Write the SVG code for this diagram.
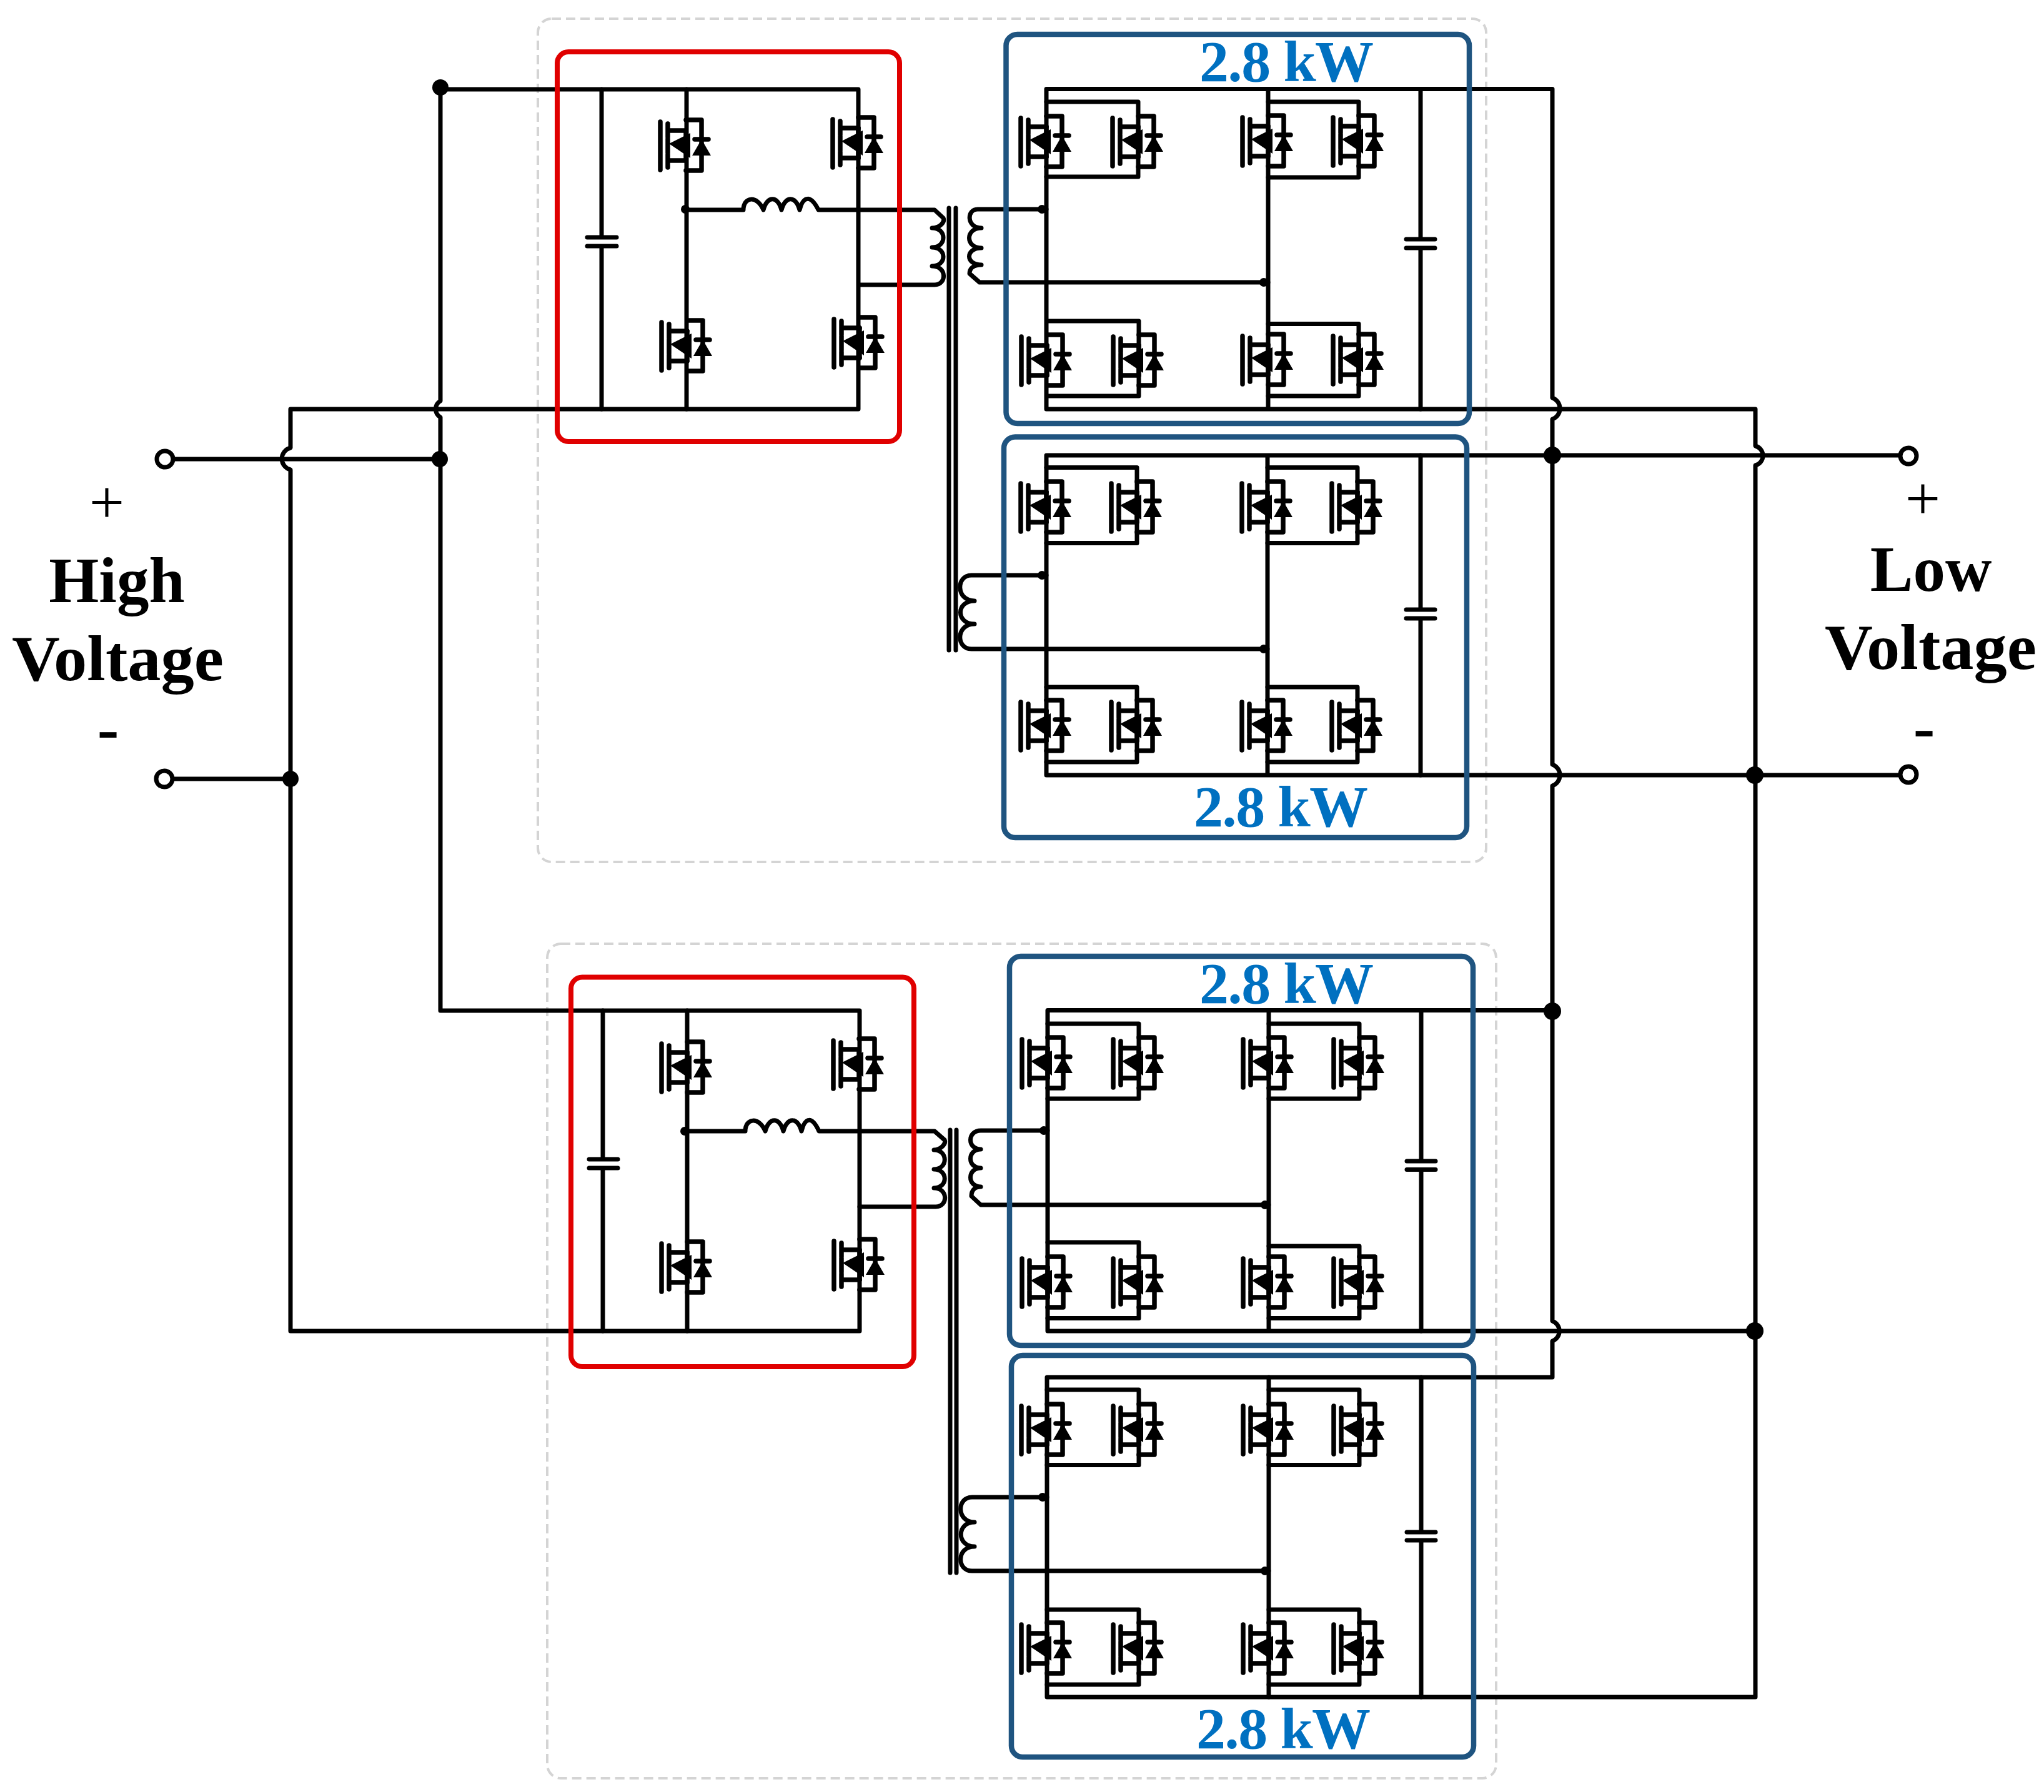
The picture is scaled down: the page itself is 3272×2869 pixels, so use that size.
<svg xmlns="http://www.w3.org/2000/svg" xmlns:xlink="http://www.w3.org/1999/xlink" width="3272" height="2869" viewBox="0 0 3272 2869">
<style>
.w{fill:none;stroke:#000;stroke-width:7;stroke-linejoin:round;stroke-linecap:round}
.s{fill:none;stroke:#000;stroke-width:7.5;stroke-linejoin:round;stroke-linecap:round}
.d{fill:#000}
.t{fill:#fff;stroke:#000;stroke-width:7}
.red{fill:none;stroke:#e00000;stroke-width:8}
.blue{fill:none;stroke:#1f5480;stroke-width:8.5}
.dash{fill:none;stroke:#d4d4d4;stroke-width:4;stroke-dasharray:15 8}
.kw{font-family:"Liberation Serif",serif;font-weight:700;font-size:94px;fill:#0070c0}
.big{font-family:"Liberation Serif",serif;font-weight:700;font-size:103px;fill:#000}
.plus{font-family:"Liberation Serif",serif;font-size:100px;fill:#000}
.minus{font-family:"Liberation Serif",serif;font-weight:700;font-size:104px;fill:#000}
</style>
<defs>
<g id="q">
<path class="s" d="M-41-37V40M-29-34V-12M-29-10V13M-29 15V36M-29-23H0M-29 25H0M0-40H25V41H0M14-9H36"/>
<path class="d" d="M-27-2L7-19V21ZM25-9L40 17H10Z"/>
<path class="s" d="M0-23V-10M0 14V25"/>
</g>
</defs>
<rect width="3272" height="2869" fill="#fff"/>
<g id="frames">
<rect class="dash" x="861" y="30" width="1518" height="1350" rx="22"/>
<rect class="dash" x="876" y="1511" width="1519" height="1336" rx="22"/>
</g>
<g id="connectors">
<path class="w" d="M705 143H1374V655H465V717A18 18 0 0 0 465 752V2131H1376V1618H705V668A15 15 0 0 1 705 642V143"/>
<path class="w" d="M264 735H704M264 1247H465"/>
<path class="w" d="M1099 143V655M1100 1618V2131"/>
<path class="w" d="M963 143V380M963 394V655M965 1618V1856M965 1870V2131M940 380H987M940 394H987M943 1856H989M943 1870H989"/>
<path class="w" d="M1099 336H1190C1190 315 1212 312 1222 336C1228 313 1245 313 1251 336C1257 313 1274 313 1280 336C1286 313 1298 312 1310 336H1496L1510 349C1513 356 1504 365 1492 365C1516 365 1516 396 1492 396C1516 396 1516 426 1492 426C1516 426 1516 456 1496 456H1375"/>
<path class="w" d="M1100 1811H1193C1193 1790 1215 1787 1225 1811C1231 1788 1248 1788 1254 1811C1260 1788 1277 1788 1283 1811C1289 1788 1300 1787 1311 1811H1496L1512 1825C1515 1832 1505 1841 1495 1841C1518 1841 1518 1872 1495 1872C1518 1872 1518 1902 1495 1902C1518 1902 1518 1932 1498 1932H1376"/>
<path class="w" d="M1519 333V1041M1530 333V1041M1521 1809V2518M1531 1809V2518"/>
<path class="w" d="M1675 335H1565C1547 335 1547 365 1571 365C1545 365 1545 397 1571 397C1545 397 1545 424 1571 424C1558 424 1552 430 1552 438L1568 452H2030"/>
<path class="w" d="M1675 921H1555C1530 921 1530 962 1560 962C1530 962 1530 999 1560 999C1530 999 1530 1039 1555 1039H2029"/>
<path class="w" d="M1677 1810H1570C1548 1810 1548 1840 1570 1840C1548 1840 1548 1870 1570 1870C1548 1870 1548 1900 1570 1900C1560 1900 1555 1906 1555 1915L1570 1929H2031"/>
<path class="w" d="M1676 2397H1556C1531 2397 1531 2437 1560 2437C1531 2437 1531 2476 1560 2476C1531 2476 1531 2515 1556 2515H2031"/>
<path class="w" d="M1675 142.5V655H2810M2030 142.5V655M1675 142.5H2485V637A18 18 0 0 1 2485 671V1224A18 18 0 0 1 2485 1258V2115A17 17 0 0 1 2485 2147V2205H1676V2717H2810V745A16 16 0 0 0 2810 714V655"/>
<path class="w" d="M1675 729H3055M1675 729V1241H3055M2029 729V1241"/>
<path class="w" d="M1677 1617.5H2485M1677 1617.5V2131H2810M2031 1617.5V2131"/>
<path class="w" d="M2031 2205V2717"/>
<path class="w" d="M1675 163H1822V283H1675M2030 163H2175V284H2030M1676 514H1823V634H1676M2030 518.5H2175V634H2030"/>
<path class="w" d="M1675 748.5H1820V869.5H1675M2029 748.5H2173V869.5H2029M1675 1100H1820V1220H1675M2029 1100H2173V1220H2029"/>
<path class="w" d="M1677 1639H1823V1759H1677M2031 1639H2176V1759H2031M1677 1989H1823V2110.5H1677M2031 1995H2176V2110.5H2031"/>
<path class="w" d="M1676 2225H1823V2345.5H1676M2031 2225H2176V2345.5H2031M1676 2577H1823V2697H1676M2031 2577H2176V2697H2031"/>
<path class="w" d="M2274 142.5V383M2274 397V655M2251 383H2297M2251 397H2297"/>
<path class="w" d="M2274 729V976M2274 990V1241M2251 976H2297M2251 990H2297"/>
<path class="w" d="M2275 1617.5V1859M2275 1872.5V2131M2252 1859H2298M2252 1872.5H2298"/>
<path class="w" d="M2275 2205V2453M2275 2466V2717M2252 2453H2298M2252 2466H2298"/>
<g class="d">
<circle cx="705" cy="140" r="13"/><circle cx="704" cy="735" r="13"/><circle cx="465" cy="1247" r="13"/>
<circle cx="2485" cy="729" r="14"/><circle cx="2485" cy="1619" r="14"/><circle cx="2809" cy="1241" r="14"/><circle cx="2809" cy="2131" r="14"/>
<circle cx="1097" cy="335" r="7"/><circle cx="1096" cy="1811" r="7"/>
<circle cx="1668" cy="335" r="7"/><circle cx="2023" cy="452" r="7"/>
<circle cx="1668" cy="921" r="7"/><circle cx="2023" cy="1039" r="7"/>
<circle cx="1671" cy="1810" r="7"/><circle cx="2025" cy="1929" r="7"/>
<circle cx="1669" cy="2397" r="7"/><circle cx="2025" cy="2515" r="7"/>
</g>
</g>
<g id="terminals">
<circle class="t" cx="264" cy="735" r="13"/><circle class="t" cx="263" cy="1247" r="13"/>
<circle class="t" cx="3055" cy="730" r="13"/><circle class="t" cx="3055" cy="1240" r="13"/>
</g>
<g id="primary-1">
<use xlink:href="#q" href="#q" x="1098" y="232"/><use xlink:href="#q" href="#q" x="1374" y="228"/><use xlink:href="#q" href="#q" x="1100" y="553"/><use xlink:href="#q" href="#q" x="1376" y="548"/>
<rect class="red" x="892" y="83" width="548" height="624" rx="18"/>
</g>
<g id="primary-2">
<use xlink:href="#q" href="#q" x="1100" y="1708"/><use xlink:href="#q" href="#q" x="1375" y="1703"/><use xlink:href="#q" href="#q" x="1100" y="2028"/><use xlink:href="#q" href="#q" x="1376" y="2024"/>
<rect class="red" x="914" y="1564.5" width="549" height="623.5" rx="18"/>
</g>
<g id="module-1">
<use xlink:href="#q" href="#q" x="1675" y="226"/><use xlink:href="#q" href="#q" x="1822" y="226"/><use xlink:href="#q" href="#q" x="2030" y="225"/><use xlink:href="#q" href="#q" x="2175" y="225"/>
<use xlink:href="#q" href="#q" x="1676" y="576"/><use xlink:href="#q" href="#q" x="1823" y="576"/><use xlink:href="#q" href="#q" x="2030" y="575"/><use xlink:href="#q" href="#q" x="2175" y="575"/>
<rect class="blue" x="1610.5" y="55" width="741.5" height="623" rx="18"/>
<text class="kw" x="1920" y="130" textLength="279">2.8 kW</text>
</g>
<g id="module-2">
<use xlink:href="#q" href="#q" x="1675" y="811"/><use xlink:href="#q" href="#q" x="1820" y="811"/><use xlink:href="#q" href="#q" x="2029" y="811"/><use xlink:href="#q" href="#q" x="2173" y="811"/>
<use xlink:href="#q" href="#q" x="1675" y="1161"/><use xlink:href="#q" href="#q" x="1820" y="1161"/><use xlink:href="#q" href="#q" x="2029" y="1161"/><use xlink:href="#q" href="#q" x="2173" y="1161"/>
<rect class="blue" x="1607" y="699.5" width="741" height="641.5" rx="18"/>
<text class="kw" x="1911" y="1323" textLength="279">2.8 kW</text>
</g>
<g id="module-3">
<use xlink:href="#q" href="#q" x="1677" y="1701"/><use xlink:href="#q" href="#q" x="1823" y="1701"/><use xlink:href="#q" href="#q" x="2031" y="1701"/><use xlink:href="#q" href="#q" x="2176" y="1701"/>
<use xlink:href="#q" href="#q" x="1677" y="2052"/><use xlink:href="#q" href="#q" x="1823" y="2052"/><use xlink:href="#q" href="#q" x="2031" y="2052"/><use xlink:href="#q" href="#q" x="2176" y="2052"/>
<rect class="blue" x="1616" y="1531" width="742" height="623" rx="18"/>
<text class="kw" x="1920" y="1606" textLength="279">2.8 kW</text>
</g>
<g id="module-4">
<use xlink:href="#q" href="#q" x="1676" y="2288"/><use xlink:href="#q" href="#q" x="1823" y="2288"/><use xlink:href="#q" href="#q" x="2031" y="2288"/><use xlink:href="#q" href="#q" x="2176" y="2288"/>
<use xlink:href="#q" href="#q" x="1676" y="2638"/><use xlink:href="#q" href="#q" x="1823" y="2638"/><use xlink:href="#q" href="#q" x="2031" y="2638"/><use xlink:href="#q" href="#q" x="2176" y="2638"/>
<rect class="blue" x="1619" y="2170" width="740" height="643" rx="18"/>
<text class="kw" x="1915" y="2799" textLength="279">2.8 kW</text>
</g>
<g id="labels">
<text class="plus" x="171" y="838" text-anchor="middle">+</text>
<text class="big" x="187" y="964" text-anchor="middle">High</text>
<text class="big" x="19" y="1089" textLength="339" lengthAdjust="spacingAndGlyphs">Voltage</text>
<text class="minus" x="173" y="1201" text-anchor="middle">-</text>
<text class="plus" x="3078" y="832" text-anchor="middle">+</text>
<text class="big" x="3091" y="946" text-anchor="middle">Low</text>
<text class="big" x="2921" y="1071" textLength="339" lengthAdjust="spacingAndGlyphs">Voltage</text>
<text class="minus" x="3080" y="1199" text-anchor="middle">-</text>
</g>
</svg>
